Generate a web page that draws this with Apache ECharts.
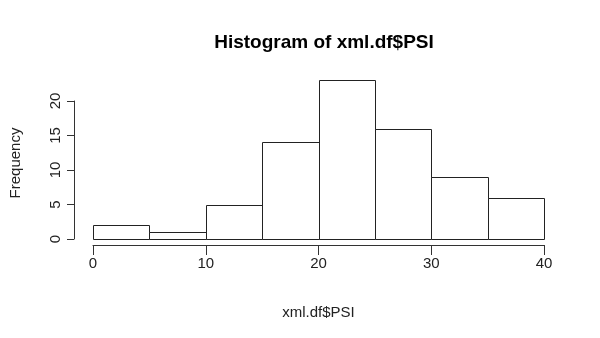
<!DOCTYPE html>
<html>
<head>
<meta charset="utf-8">
<script src="https://cdn.jsdelivr.net/npm/echarts@6/dist/echarts.min.js"></script>
<style>
  html, body { margin: 0; padding: 0; background: #fff; }
  #chart { width: 600px; height: 338px; }
</style>
</head>
<body>
<div id="chart"></div>
<script>
// histogram bins (PSI) and counts
var binEdges = [0, 5, 10, 15, 20, 25, 30, 35, 40];
var counts = [2, 1, 5, 14, 23, 16, 9, 6];
var xTicks = [0, 10, 20, 30, 40];
var yTicks = [0, 5, 10, 15, 20];

var bins = counts.map(function (c, i) {
  return [binEdges[i], binEdges[i + 1], c];
});

var font = '"Liberation Sans", Arial, sans-serif';
var chart = echarts.init(document.getElementById('chart'));

var option = {
  animation: false,
  backgroundColor: '#fff',
  title: {
    text: 'Histogram of xml.df$PSI',
    left: 319,
    top: 28,
    textAlign: 'center',
    textStyle: { fontFamily: font, fontSize: 19, fontWeight: 'bold', color: '#000' }
  },
  grid: { left: 92, right: 56, top: 101, bottom: 99 },
  xAxis: {
    type: 'value',
    min: xTicks[0],
    max: xTicks[xTicks.length - 1],
    interval: xTicks[1] - xTicks[0],
    offset: 6,
    name: 'xml.df$PSI',
    nameLocation: 'middle',
    nameGap: 60,
    nameTextStyle: { fontFamily: font, fontSize: 15, color: '#222' },
    axisLine: { show: true, onZero: false, lineStyle: { color: '#333', width: 1 } },
    axisTick: { show: true, length: 10, inside: false, lineStyle: { color: '#333' } },
    axisLabel: { fontFamily: font, fontSize: 15, color: '#222', margin: 11 },
    splitLine: { show: false }
  },
  yAxis: {
    type: 'value',
    min: yTicks[0],
    max: yTicks[yTicks.length - 1],
    interval: yTicks[1] - yTicks[0],
    offset: 19,
    name: 'Frequency',
    nameLocation: 'middle',
    nameGap: 51,
    nameRotate: 90,
    nameTextStyle: { fontFamily: font, fontSize: 15, color: '#222', padding: [0, 0, 0, 14] },
    axisLine: { show: true, onZero: false, lineStyle: { color: '#333', width: 1 } },
    axisTick: { show: true, length: 7, lineStyle: { color: '#333' } },
    axisLabel: { fontFamily: font, fontSize: 15, color: '#222', rotate: 90, margin: 11 },
    splitLine: { show: false }
  },
  series: [{
    type: 'custom',
    clip: false,
    data: bins,
    renderItem: function (params, api) {
      var p0 = api.coord([api.value(0), 0]);
      var p1 = api.coord([api.value(1), api.value(2)]);
      return {
        type: 'rect',
        shape: {
          x: Math.round(p0[0]) + 0.5,
          y: Math.round(p1[1]) + 0.5,
          width: Math.round(p1[0]) - Math.round(p0[0]),
          height: Math.round(p0[1]) - Math.round(p1[1])
        },
        style: { fill: '#fff', stroke: '#222', lineWidth: 1 }
      };
    }
  }]
};

chart.setOption(option);
</script>
</body>
</html>
